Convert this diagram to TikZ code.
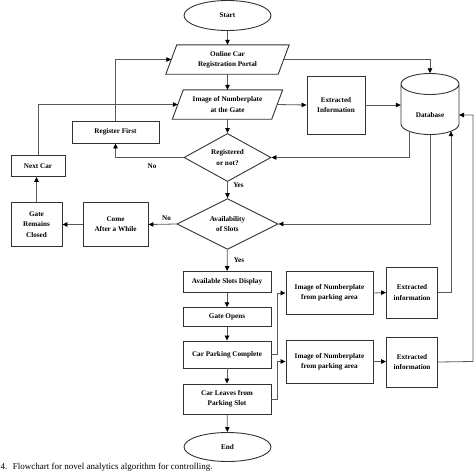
\documentclass[tikz,border=0pt]{standalone}
\usepackage{fontspec}
\setmainfont{Liberation Serif}
\usetikzlibrary{shapes.geometric,arrows.meta,calc}
\begin{document}
\begin{tikzpicture}[x=1pt,y=-1pt,
  every node/.style={inner sep=0pt, align=center, font=\fontsize{7.2}{10.3}\selectfont\bfseries},
  bx/.style={draw=black!80, line width=0.9pt, rectangle},
  ell/.style={draw=black!80, line width=0.9pt, ellipse},
  dia/.style={draw=black!80, line width=0.9pt, diamond},
  para/.style={rectangle},
  conn/.style={draw=black!65, line width=0.8pt, -{Triangle[length=5pt,width=4.5pt,fill=black,color=black]}},
  lbl/.style={font=\fontsize{7.2}{9}\selectfont\bfseries},
]
\useasboundingbox (0,0) rectangle (474,474);

% nodes
\node[ell, minimum width=87, minimum height=30] (start) at (227.5,15.5) {Start};
\node[para, minimum width=112, minimum height=29] (portal) at (227.5,59.5) {Online Car\\Registration Portal};
\node[para, minimum width=99, minimum height=29] (img) at (227.5,104.5) {Image of Numberplate\\at the Gate};
\node[bx, minimum width=58, minimum height=58] (ext) at (336,105) {Extracted\\Information};
\node[minimum width=58, minimum height=61] (db) at (430,104) {};
\node (dbtext) at (430,115) {Database};
\node[bx, minimum width=87, minimum height=22] (regfirst) at (115.5,132) {Register First};
\node[dia, minimum width=87, minimum height=39] (reg) at (227.5,157.5) {Registered\\or not?};
\node[bx, minimum width=54, minimum height=21] (nextcar) at (38,166) {Next Car};
\node[dia, minimum width=101, minimum height=48] (avail) at (227.5,224) {Availability\\of Slots};
\node[bx, minimum width=65, minimum height=43.5] (come) at (115.5,224.5) {Come\\After a While};
\node[bx, minimum width=51, minimum height=43.5] (gate) at (36.5,224.5) {Gate\\Remains\\Closed};
\node[bx, minimum width=88, minimum height=21] (slots) at (227,282) {Available Slots Display};
\node[bx, minimum width=88, minimum height=18.5] (opens) at (227,317) {Gate Opens};
\node[bx, minimum width=88, minimum height=27] (cpc) at (227,354.5) {Car Parking Complete};
\node[bx, minimum width=88, minimum height=30] (leaves) at (227,399) {Car Leaves from\\Parking Slot};
\node[ell, minimum width=87, minimum height=29] (end) at (227.5,447) {End};
\node[bx, minimum width=87, minimum height=43] (img1) at (329.5,293) {Image of Numberplate\\from parking area};
\node[bx, minimum width=51, minimum height=51] (ext1) at (412,292.5) {Extracted\\information};
\node[bx, minimum width=87, minimum height=43] (img2) at (329.5,361.5) {Image of Numberplate\\from parking area};
\node[bx, minimum width=51, minimum height=50] (ext2) at (412,362) {Extracted\\information};

% parallelograms
\draw[draw=black!80, line width=0.9pt] ($(portal.north west)+(5.5,0)$) -- ($(portal.north east)+(5.5,0)$) -- ($(portal.south east)+(-5.5,0)$) -- ($(portal.south west)+(-5.5,0)$) -- cycle;
\draw[draw=black!80, line width=0.9pt] ($(img.north west)+(5.5,0)$) -- ($(img.north east)+(5.5,0)$) -- ($(img.south east)+(-5.5,0)$) -- ($(img.south west)+(-5.5,0)$) -- cycle;
% cylinder
\draw[draw=black!80, line width=0.9pt] (401,84) arc[start angle=180, end angle=360, x radius=29, y radius=-10.5]
  arc[start angle=0, end angle=180, x radius=29, y radius=-10.5] -- (401,124)
  arc[start angle=180, end angle=360, x radius=29, y radius=-10.5] -- (459,84);

% coordinates on the cylinder
\coordinate (dbl) at (409,131.2);
\coordinate (dbm) at (430,134.5);
\coordinate (dbr) at (451,131.2);
\coordinate (dbe) at (459,115);
\coordinate (farr) at (473,361.5);

% connectors
\draw[conn] (start) -- (portal);
\draw[conn] (portal) -- (img);
\draw[conn] (img) -- (reg);
\draw[conn] (reg) -- (avail);
\draw[conn] (avail) -- (slots);
\draw[conn] (slots) -- (opens);
\draw[conn] (opens) -- (cpc);
\draw[conn] (cpc) -- (leaves);
\draw[conn] (leaves) -- (end);
\draw[conn] (portal.east) -| (db.north);
\draw[conn] (img.east) -- (ext.west);
\draw[conn] (ext.east) -- (ext.east -| db.west);
\draw[conn] (dbl) |- (reg.east);
\draw[conn] (dbm) |- (avail.east);
\draw[conn] (reg.west) -| (regfirst.south);
\draw[conn] (regfirst.north) |- (portal.west);
\draw[conn] (nextcar.north) |- (img.west);
\draw[conn] (avail.west) -- (come.east);
\draw[conn] (come.west) -- (gate.east);
\draw[conn] (gate.north) -- (gate.north |- nextcar.south);
\draw[conn] (cpc.east) -- ++(6,0) |- (img1.west);
\draw[conn] (leaves.east) -- ++(6,0) |- (img2.west);
\draw[conn] (img1.east) -- (ext1.west);
\draw[conn] (img2.east) -- (img2.east -| ext2.west);
\draw[conn] (ext1.east) -| (dbr);
\draw[conn] (ext2.east) -- (farr) |- (dbe);

% labels
\node[lbl] (no1) at (152,166) {No};
\node[lbl] (yes1) at (238.5,185) {Yes};
\node[lbl] (no2) at (166.5,218) {No};
\node[lbl] (yes2) at (239,260) {Yes};

% caption
\node[anchor=base west, font=\fontsize{9}{11}\selectfont] (cap) at (0.5,469) {4.\hspace{5.5pt}Flowchart for novel analytics algorithm for controlling.};
\end{tikzpicture}
\end{document}
